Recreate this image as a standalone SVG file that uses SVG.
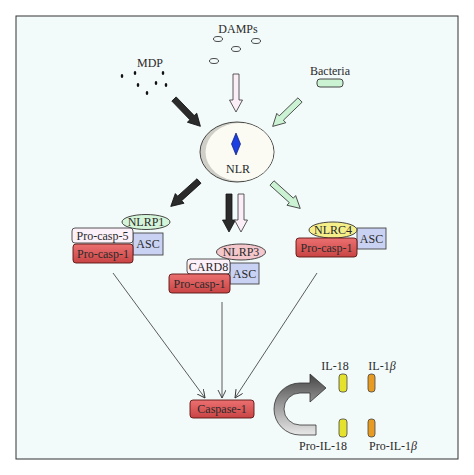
<svg xmlns="http://www.w3.org/2000/svg" width="474" height="475" viewBox="0 0 474 475">
<style>
text{font-family:"Liberation Serif","DejaVu Serif",serif;font-size:12px;fill:#2a2a2a;text-anchor:middle}
.box{stroke:#333;stroke-width:0.9}
.red{fill:url(#redg);stroke:#5a1515;stroke-width:0.9}
.asc{fill:#c9d2f2;stroke:#444;stroke-width:0.9}
.wbox{fill:#fcf0f9;stroke:#444;stroke-width:0.9}
.blk{fill:#2b2b2b;stroke:#111;stroke-width:0.8}
.pnk{fill:#fbeef6;stroke:#333;stroke-width:0.8}
.grn{fill:#ccf2d4;stroke:#333;stroke-width:0.8}
.thin{stroke:#333;stroke-width:0.8;fill:none;marker-end:url(#open)}
.dot{fill:#111}
.damp{fill:none;stroke:#333;stroke-width:0.9}
</style>
<defs>
<linearGradient id="redg" x1="0" y1="0" x2="0" y2="1"><stop offset="0" stop-color="#ec7070"/><stop offset="1" stop-color="#c94444"/></linearGradient>
<linearGradient id="grayg" x1="0" y1="0" x2="0" y2="1"><stop offset="0" stop-color="#444"/><stop offset="0.5" stop-color="#999"/><stop offset="1" stop-color="#e8e8e8"/></linearGradient>
<path id="fat" d="M0,-3 L26,-3 L26,-6.5 L38,0 L26,6.5 L26,3 L0,3 Z"/>
<marker id="open" markerWidth="10" markerHeight="10" refX="8" refY="4" orient="auto" markerUnits="userSpaceOnUse"><path d="M0,0 L8,4 L0,8" fill="none" stroke="#333" stroke-width="0.9"/></marker>
</defs>
<rect x="0" y="0" width="474" height="475" fill="#fff"/>
<rect x="16" y="16" width="442" height="443" fill="#f3fafa" stroke="#333" stroke-width="1"/>

<g id="damps">
<text x="238" y="33">DAMPs</text>
<ellipse class="damp" cx="218" cy="39" rx="4.5" ry="2.5"/>
<ellipse class="damp" cx="256" cy="41" rx="4.5" ry="2.5"/>
<ellipse class="damp" cx="236" cy="49" rx="4.5" ry="2.5"/>
<ellipse class="damp" cx="214" cy="61" rx="4.5" ry="2.5"/>
</g>
<g id="mdp">
<text x="150" y="67">MDP</text>
<ellipse class="dot" cx="122" cy="76" rx="1.3" ry="1.9"/>
<ellipse class="dot" cx="135" cy="73" rx="1.3" ry="1.9"/>
<ellipse class="dot" cx="163" cy="73" rx="1.3" ry="1.9"/>
<ellipse class="dot" cx="138" cy="85" rx="1.3" ry="1.9"/>
<ellipse class="dot" cx="156" cy="83" rx="1.3" ry="1.9"/>
<ellipse class="dot" cx="166" cy="85" rx="1.3" ry="1.9"/>
<ellipse class="dot" cx="147" cy="93" rx="1.3" ry="1.9"/>
</g>
<g id="bacteria">
<text x="330" y="75">Bacteria</text>
<rect x="317" y="79" width="26" height="8" rx="3" fill="#ccf2d4" stroke="#333" stroke-width="0.9"/>
</g>

<g id="fat-arrows">
<use href="#fat" class="blk" transform="translate(174,99) rotate(46)"/>
<use href="#fat" class="pnk" transform="translate(236,74) rotate(90)"/>
<use href="#fat" class="grn" transform="translate(300,100) rotate(136)"/>
<use href="#fat" class="blk" transform="translate(199,181) rotate(138)"/>
<use href="#fat" class="blk" transform="translate(229,194) rotate(90)"/>
<use href="#fat" class="pnk" transform="translate(241,194) rotate(90)"/>
<use href="#fat" class="grn" transform="translate(272,183) rotate(42)"/>
</g>

<g id="nlr">
<ellipse cx="237" cy="152" rx="37" ry="30" fill="#cfcfc8" stroke="#333" stroke-width="0.9"/>
<ellipse cx="239.5" cy="152" rx="34" ry="29" fill="#fbfbf3"/>
<polygon points="236,133 240.5,144 236,155 231.5,144" fill="#1d3ee0" stroke="#0a1a70" stroke-width="0.7"/>
<text x="238" y="173">NLR</text>
</g>

<g id="nlrp1-complex">
<ellipse cx="146" cy="222" rx="24" ry="7.5" fill="#d5f5d8" stroke="#333" stroke-width="0.9"/>
<text x="146" y="226">NLRP1</text>
<rect class="asc" x="133" y="233" width="30" height="22"/>
<text x="148" y="248">ASC</text>
<rect class="wbox" x="72" y="228" width="61" height="15" rx="3"/>
<text x="102.5" y="240">Pro-casp-5</text>
<rect class="red" x="73" y="244" width="60" height="19" rx="3"/>
<text x="103" y="258">Pro-casp-1</text>
</g>

<g id="nlrp3-complex">
<ellipse cx="241" cy="252" rx="24.5" ry="8" fill="#f4c7cc" stroke="#333" stroke-width="0.9"/>
<text x="241" y="256">NLRP3</text>
<rect class="asc" x="230" y="263" width="29" height="21"/>
<text x="244.5" y="278">ASC</text>
<rect class="wbox" x="187" y="259" width="43" height="15" rx="3" fill="#fdf8fb"/>
<text x="208.5" y="271">CARD8</text>
<rect class="red" x="169" y="274" width="61" height="19" rx="3"/>
<text x="199.5" y="288">Pro-casp-1</text>
</g>

<g id="nlrc4-complex">
<rect class="asc" x="357" y="228" width="29" height="21"/>
<text x="371.5" y="243">ASC</text>
<ellipse cx="333" cy="230" rx="24" ry="8" fill="#f5ef8a" stroke="#333" stroke-width="0.9"/>
<text x="333" y="234">NLRC4</text>
<rect class="red" x="296" y="238" width="61" height="19" rx="3"/>
<text x="326.5" y="252">Pro-casp-1</text>
</g>

<g id="connectors">
<line class="thin" x1="113" y1="273" x2="205" y2="398"/>
<line class="thin" x1="222" y1="302" x2="222" y2="398"/>
<line class="thin" x1="317" y1="273" x2="235" y2="398"/>
</g>

<g id="caspase1">
<rect class="red" x="190" y="400" width="64" height="18" rx="3"/>
<text x="222" y="413">Caspase-1</text>
</g>

<g id="processing">
<path d="M316,435 L300,435 A26,26 0 0 1 300,383 L310,383 L310,374 L326,388 L310,402 L310,393 L300,393 A16,16 0 0 0 300,425 L316,425 Z" fill="url(#grayg)" stroke="#333" stroke-width="0.8"/>
<text x="335" y="370">IL-18</text>
<text x="382" y="370">IL-1<tspan font-style="italic">β</tspan></text>
<rect x="339" y="374" width="8" height="18" rx="3" fill="#e4e22c" stroke="#444" stroke-width="0.8"/>
<rect x="368" y="374" width="7" height="18" rx="3" fill="#e89b22" stroke="#444" stroke-width="0.8"/>
<rect x="339" y="419" width="8" height="18" rx="3" fill="#e4e22c" stroke="#444" stroke-width="0.8"/>
<rect x="368" y="419" width="7" height="18" rx="3" fill="#e89b22" stroke="#444" stroke-width="0.8"/>
<text x="323" y="450">Pro-IL-18</text>
<text x="393" y="450">Pro-IL-1<tspan font-style="italic">β</tspan></text>
</g>
</svg>
